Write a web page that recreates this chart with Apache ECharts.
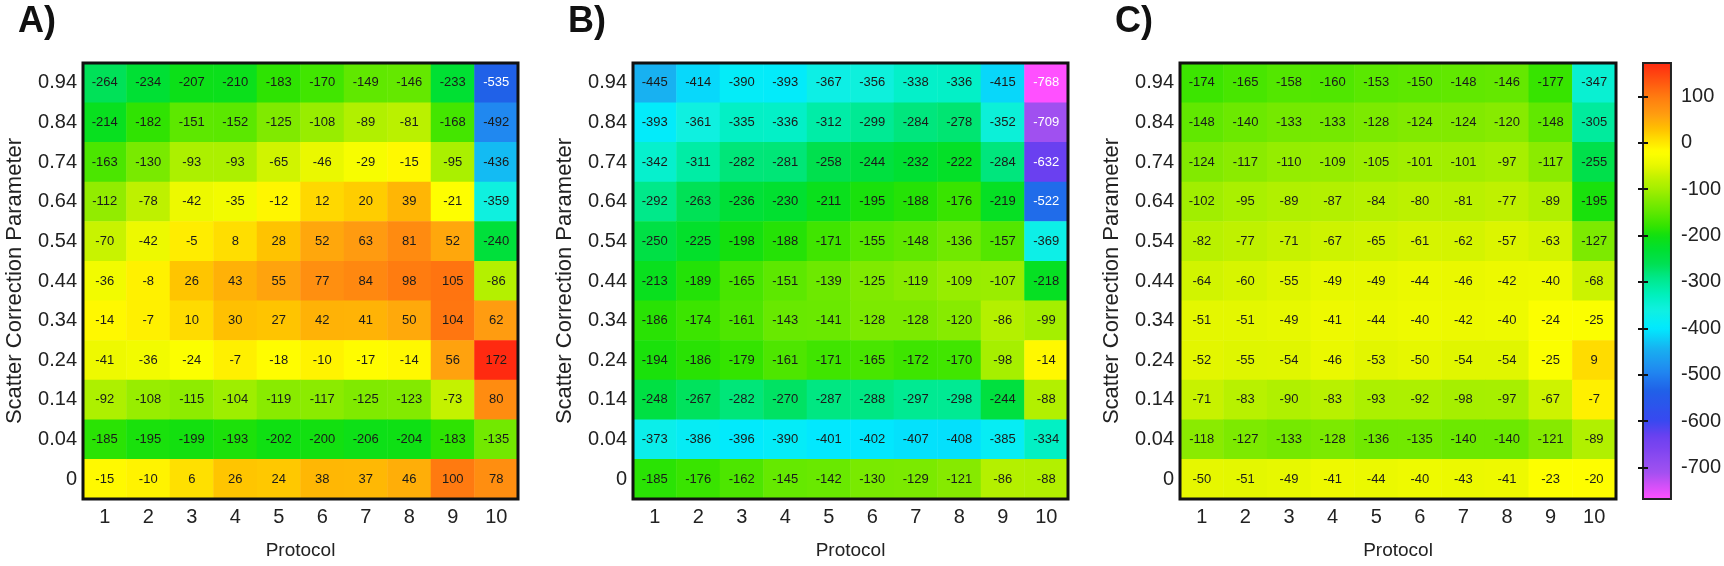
<!DOCTYPE html>
<html>
<head>
<meta charset="utf-8">
<script src="https://cdn.jsdelivr.net/npm/echarts@6/dist/echarts.min.js"></script>
<style>
  html, body { margin: 0; padding: 0; background: #fff; }
  #main { width: 1724px; height: 566px; }
</style>
</head>
<body>
<div id="main"></div>
<script>
var protocols = ['1', '2', '3', '4', '5', '6', '7', '8', '9', '10'];
// bottom to top
var scatterParams = ['0', '0.04', '0.14', '0.24', '0.34', '0.44', '0.54', '0.64', '0.74', '0.84', '0.94'];
var panelNames = ['A)', 'B)', 'C)'];
var colorbarTicks = [-700, -600, -500, -400, -300, -200, -100, 0, 100];
var scaleMin = -768;
var scaleMax = 172;

// rows listed top (0.94) to bottom (0)
var valuesA = [
  [-264, -234, -207, -210, -183, -170, -149, -146, -233, -535],
  [-214, -182, -151, -152, -125, -108, -89, -81, -168, -492],
  [-163, -130, -93, -93, -65, -46, -29, -15, -95, -436],
  [-112, -78, -42, -35, -12, 12, 20, 39, -21, -359],
  [-70, -42, -5, 8, 28, 52, 63, 81, 52, -240],
  [-36, -8, 26, 43, 55, 77, 84, 98, 105, -86],
  [-14, -7, 10, 30, 27, 42, 41, 50, 104, 62],
  [-41, -36, -24, -7, -18, -10, -17, -14, 56, 172],
  [-92, -108, -115, -104, -119, -117, -125, -123, -73, 80],
  [-185, -195, -199, -193, -202, -200, -206, -204, -183, -135],
  [-15, -10, 6, 26, 24, 38, 37, 46, 100, 78]
];
var valuesB = [
  [-445, -414, -390, -393, -367, -356, -338, -336, -415, -768],
  [-393, -361, -335, -336, -312, -299, -284, -278, -352, -709],
  [-342, -311, -282, -281, -258, -244, -232, -222, -284, -632],
  [-292, -263, -236, -230, -211, -195, -188, -176, -219, -522],
  [-250, -225, -198, -188, -171, -155, -148, -136, -157, -369],
  [-213, -189, -165, -151, -139, -125, -119, -109, -107, -218],
  [-186, -174, -161, -143, -141, -128, -128, -120, -86, -99],
  [-194, -186, -179, -161, -171, -165, -172, -170, -98, -14],
  [-248, -267, -282, -270, -287, -288, -297, -298, -244, -88],
  [-373, -386, -396, -390, -401, -402, -407, -408, -385, -334],
  [-185, -176, -162, -145, -142, -130, -129, -121, -86, -88]
];
var valuesC = [
  [-174, -165, -158, -160, -153, -150, -148, -146, -177, -347],
  [-148, -140, -133, -133, -128, -124, -124, -120, -148, -305],
  [-124, -117, -110, -109, -105, -101, -101, -97, -117, -255],
  [-102, -95, -89, -87, -84, -80, -81, -77, -89, -195],
  [-82, -77, -71, -67, -65, -61, -62, -57, -63, -127],
  [-64, -60, -55, -49, -49, -44, -46, -42, -40, -68],
  [-51, -51, -49, -41, -44, -40, -42, -40, -24, -25],
  [-52, -55, -54, -46, -53, -50, -54, -54, -25, 9],
  [-71, -83, -90, -83, -93, -92, -98, -97, -67, -7],
  [-118, -127, -133, -128, -136, -135, -140, -140, -121, -89],
  [-50, -51, -49, -41, -44, -40, -43, -41, -23, -20]
];
var panels = [valuesA, valuesB, valuesC];

// colour ramp (value -> colour), resampled evenly for the visualMap
var rampStops = [
  [-768, '#ff50ff'], [-709, '#a050f0'], [-632, '#6a40f0'], [-600, '#3848f0'],
  [-535, '#2060e8'], [-492, '#2088f0'], [-445, '#18b0f0'], [-400, '#00eaff'],
  [-360, '#10f0e0'], [-330, '#00f0c0'], [-290, '#00e888'], [-260, '#00e050'],
  [-230, '#00e030'], [-200, '#10e010'], [-180, '#33e400'], [-150, '#5ee800'],
  [-125, '#80ea00'], [-100, '#a4ef00'], [-70, '#c8f200'], [-50, '#e6f700'],
  [-20, '#ffff00'], [0, '#ffe800'], [30, '#ffc000'], [60, '#ff9e10'],
  [100, '#ff7a10'], [172, '#ff2a10']
];
function hex2rgb(h) {
  return [parseInt(h.substr(1, 2), 16), parseInt(h.substr(3, 2), 16), parseInt(h.substr(5, 2), 16)];
}
function rampAt(v) {
  for (var i = 0; i < rampStops.length - 1; i++) {
    var a = rampStops[i], b = rampStops[i + 1];
    if (v <= b[0]) {
      var t = (v - a[0]) / (b[0] - a[0]);
      var ca = hex2rgb(a[1]), cb = hex2rgb(b[1]);
      return 'rgb(' + ca.map(function (c, k) { return Math.round(c + (cb[k] - c) * t); }).join(',') + ')';
    }
  }
  return rampStops[rampStops.length - 1][1];
}
var rampColors = [];
for (var s = 0; s <= 188; s++) {
  rampColors.push(rampAt(scaleMin + (scaleMax - scaleMin) * s / 188));
}

var font = "'Liberation Sans', Arial, sans-serif";
var gridLefts = [83, 633, 1180];
var gridWidths = [435, 435, 436];

var grids = [], xAxes = [], yAxes = [], series = [], titles = [];
panels.forEach(function (rows, p) {
  grids.push({
    left: gridLefts[p], top: 63, width: gridWidths[p], height: 436,
    show: true, borderColor: '#111', borderWidth: 3, backgroundColor: 'transparent', z: 10
  });
  xAxes.push({
    type: 'category', gridIndex: p, data: protocols,
    name: 'Protocol', nameLocation: 'middle', nameGap: 42,
    nameTextStyle: { fontSize: 19, color: '#222', fontFamily: font },
    axisLine: { show: false },
    axisTick: { alignWithLabel: true, length: 10, lineStyle: { color: '#111', width: 3 } },
    axisLabel: { fontSize: 20, color: '#222', margin: 8, fontFamily: font },
    splitLine: { show: false }
  });
  yAxes.push({
    type: 'category', gridIndex: p, data: scatterParams,
    name: 'Scatter Correction Parameter', nameLocation: 'middle', nameGap: 57,
    nameTextStyle: { fontSize: 22, color: '#222', fontFamily: font },
    axisLine: { show: false },
    axisTick: { alignWithLabel: true, length: 10, lineStyle: { color: '#111', width: 3 } },
    axisLabel: { fontSize: 20, color: '#222', margin: 6, fontFamily: font },
    splitLine: { show: false }
  });
  var data = [];
  rows.forEach(function (row, r) {
    row.forEach(function (v, c) {
      var item = { value: [c, scatterParams.length - 1 - r, v] };
      if (v < -500) item.label = { color: '#fff' };
      data.push(item);
    });
  });
  series.push({
    type: 'heatmap', xAxisIndex: p, yAxisIndex: p, data: data,
    label: { show: true, fontSize: 13, color: '#1a1a1a', fontFamily: font },
    emphasis: { disabled: true },
    itemStyle: { borderWidth: 0 }
  });
  titles.push({
    text: panelNames[p], left: gridLefts[p] - 65, top: 4, padding: 0,
    textStyle: { fontSize: 36, fontWeight: 'bold', color: '#111', fontFamily: font }
  });
});

// colour bar frame + tick labels
grids.push({
  left: 1643, top: 63, width: 28, height: 436,
  show: true, borderColor: '#222', borderWidth: 2, backgroundColor: 'transparent', z: 10
});
xAxes.push({ type: 'value', gridIndex: 3, show: false, min: 0, max: 1 });
yAxes.push({
  type: 'value', gridIndex: 3, position: 'right', min: scaleMin, max: scaleMax, z: 10,
  axisLine: { show: false },
  axisTick: { show: true, inside: true, length: 5, customValues: colorbarTicks, lineStyle: { color: '#111', width: 2 } },
  axisLabel: { show: true, fontSize: 20, color: '#222', margin: 10, fontFamily: font, customValues: colorbarTicks },
  splitLine: { show: false }
});
yAxes.push({
  type: 'value', gridIndex: 3, position: 'left', min: scaleMin, max: scaleMax, z: 10,
  axisLine: { show: false },
  axisTick: { show: true, inside: true, length: 5, customValues: colorbarTicks, lineStyle: { color: '#111', width: 2 } },
  axisLabel: { show: false },
  splitLine: { show: false }
});

var chart = echarts.init(document.getElementById('main'));
chart.setOption({
  backgroundColor: '#fff',
  animation: false,
  title: titles,
  grid: grids,
  xAxis: xAxes,
  yAxis: yAxes,
  visualMap: {
    type: 'continuous', min: scaleMin, max: scaleMax, seriesIndex: [0, 1, 2],
    orient: 'vertical', left: 1643, top: 63, itemWidth: 28, itemHeight: 436,
    padding: 0, calculable: false, hoverLink: false, z: 4,
    inRange: { color: rampColors }
  },
  series: series
});
</script>
</body>
</html>
